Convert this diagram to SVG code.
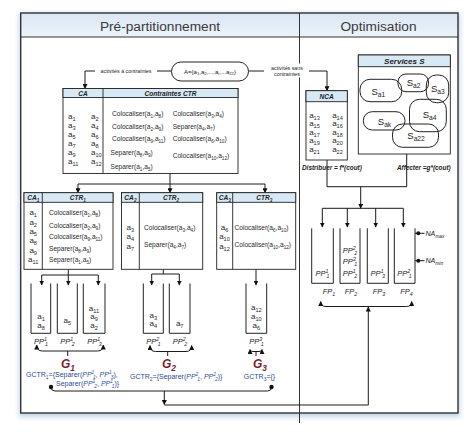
<svg xmlns="http://www.w3.org/2000/svg" width="474" height="433" viewBox="0 0 474 433">
<defs>
<style>
text{font-family:"Liberation Sans",Arial,sans-serif;fill:#222}
.hd{font-size:13.7px;fill:#3a3a3a;text-anchor:middle}
.bh{font-size:6.6px;font-weight:bold;font-style:italic;text-anchor:middle}
.sv{font-size:8px;font-weight:bold;font-style:italic;text-anchor:middle}
.c{font-size:6.6px;fill:#2a2a2a}
.a{font-size:8px;fill:#2a2a2a}
.pp{font-size:7.5px;font-style:italic;text-anchor:middle}
.g{font-size:12px;font-weight:bold;font-style:italic;fill:#7a1e2e;text-anchor:middle}
.gc{font-size:7px;fill:#2d4a98}
.sm{font-size:5.3px;text-anchor:middle}
.lb{font-size:6.4px;font-weight:bold;font-style:italic}
.s{font-size:9.5px;text-anchor:middle}
.sb{font-size:70%;baseline-shift:-0.35em}
.sp{font-size:70%;baseline-shift:0.55em}
.m{text-anchor:middle}
.ln{fill:none;stroke:#1a1a1a;stroke-width:1}
.ar{marker-end:url(#ah)}
.ar2{marker-start:url(#ah);marker-end:url(#ah)}
.tb{fill:#fff;stroke:#222;stroke-width:0.9}
.th{fill:#d8e9f6;stroke:#222;stroke-width:0.9}
.bx{fill:none;stroke:#222;stroke-width:0.9}
.el{fill:none;stroke:#222;stroke-width:1}
.ct{fill:none;stroke:#222;stroke-width:1}
</style>
<marker id="ah" viewBox="0 0 10 10" refX="9" refY="5" markerWidth="5" markerHeight="5" markerUnits="userSpaceOnUse" orient="auto-start-reverse"><path d="M0,0 L10,5 L0,10 z" fill="#111"/></marker>
<linearGradient id="hg" x1="0" y1="0" x2="0" y2="1"><stop offset="0" stop-color="#dbe7f4"/><stop offset="1" stop-color="#ecf3fa"/></linearGradient>
<filter id="sh" x="-10%" y="-10%" width="120%" height="120%"><feGaussianBlur stdDeviation="2.5"/></filter>
</defs>
<rect width="474" height="433" fill="#fff"/>
<g id="frame">
<rect x="19" y="13" width="441" height="404" fill="#a9c2e2" opacity="0.7" filter="url(#sh)"/>
<rect x="20.7" y="13" width="437.3" height="400" fill="#fff"/>
<rect x="20.7" y="13" width="437.3" height="24" fill="url(#hg)"/>
<line x1="20.7" y1="37" x2="458" y2="37" stroke="#333" stroke-width="1"/>
<line x1="299.5" y1="13" x2="299.5" y2="423" stroke="#333" stroke-width="1"/>
<rect x="20.7" y="13" width="437.3" height="400" fill="none" stroke="#333" stroke-width="1.4"/>
<text class="hd" x="160" y="31">Pré-partitionnement</text>
<text class="hd" x="378.5" y="31">Optimisation</text>
</g>
<g id="connectors">
<path class="ln" d="M171.5,71 H157"/>
<path class="ln ar" d="M95,71 H85 V88.5"/>
<path class="ln" d="M248.5,71 H264"/>
<path class="ln ar" d="M309,71 H327 V90.7"/>
<path class="ln" d="M170,173.5 V184 M78,184 H265"/>
<path class="ln ar" d="M78,184 V192.7"/>
<path class="ln ar" d="M170,184 V192.7"/>
<path class="ln ar" d="M265,184 V192.7"/>
<path class="ln" d="M68.3,269.3 V275 M41.7,275 H98.3"/>
<path class="ln ar" d="M41.7,275 V285"/>
<path class="ln ar" d="M68.3,275 V285"/>
<path class="ln ar" d="M98.3,275 V285"/>
<path class="ln" d="M163.3,269.3 V274 M151.7,274 H179.3"/>
<path class="ln ar" d="M151.7,274 V285"/>
<path class="ln ar" d="M179.3,274 V285"/>
<path class="ln ar" d="M256,269.3 V285"/>
<path class="ln ar2" d="M36.7,345 Q36.7,351 42.5,351 H97.5 Q103.3,351 103.3,345"/>
<path class="ln" d="M67.7,351 V356"/>
<path class="ln ar2" d="M150,345.5 Q150,351.5 155.5,351.5 H186 Q191.7,351.5 191.7,345.5"/>
<path class="ln" d="M167.7,351.5 V356"/>
<path class="ln ar2" d="M250,349.5 Q250,351.5 253,351.5 H259 Q262,351.5 262,349.5"/>
<path class="ln" d="M256,351.5 V356"/>
<path class="ln" d="M51,387 Q51,391 55,391 H267.5 Q271.5,391 271.5,387"/>
<circle cx="51" cy="387" r="2.2" fill="#111"/>
<circle cx="271.5" cy="387" r="2.2" fill="#111"/>
<path class="ln ar" d="M164.3,391 V404.5"/>
<path class="ln ar" d="M164.3,405 H368.3 V307"/>
<path class="ln" d="M327,160 V186.7 H406.7 V154"/>
<path class="ln ar" d="M360.7,186.7 V208.3"/>
<path class="ln" d="M322.3,208.3 H403.3"/>
<path class="ln ar" d="M322.3,208.3 V227"/>
<path class="ln ar" d="M347.3,208.3 V227"/>
<path class="ln ar" d="M375.7,208.3 V227"/>
<path class="ln ar" d="M403.3,208.3 V227"/>
<path class="ln ar2" d="M320.7,301.5 Q320.7,306.5 326,306.5 H406.5 Q411.7,306.5 411.7,301.5"/>
<path class="ln" d="M415,233.3 H418.3 M415,260.7 H418.3 M420,233.3 H424.5 M420,260.7 H424.5"/>
<circle cx="418.3" cy="233.3" r="2" fill="#111"/>
<circle cx="418.3" cy="260.7" r="2" fill="#111"/>
<text class="sm" x="126" y="73">activités à contraintes</text>
<rect x="268" y="63.5" width="37" height="14" fill="#fff"/>
<text class="sm" x="287" y="70">activités sans</text>
<text class="sm" x="287" y="76">contraintes</text>
<text class="lb" x="302" y="170">Distribuer = f*(cout)</text>
<text class="lb" x="397" y="170">Affecter =g*(cout)</text>
</g>
<g id="A">
<rect x="171.5" y="62" width="77" height="19" rx="9.5" fill="#fff" stroke="#222" stroke-width="1"/>
<text class="m" style="font-size:6px" x="210" y="74">A={a<tspan class="sb">1</tspan>,a<tspan class="sb">2</tspan>,...,a<tspan class="sb">i</tspan>,...a<tspan class="sb">22</tspan>}</text>
</g>
<g id="CA">
<rect class="tb" x="63" y="88.5" width="175" height="85"/>
<rect class="th" x="63" y="88.5" width="175" height="9"/>
<line class="bx" x1="103" y1="88.5" x2="103" y2="173.5"/>
<text class="bh" x="83" y="95.5">CA</text>
<text class="bh" x="170.5" y="95.5">Contraintes CTR</text>
<text class="a" x="68" y="119.3">a<tspan class="sb">1</tspan></text>
<text class="a" x="68" y="128.2">a<tspan class="sb">3</tspan></text>
<text class="a" x="68" y="137.1">a<tspan class="sb">5</tspan></text>
<text class="a" x="68" y="146">a<tspan class="sb">7</tspan></text>
<text class="a" x="68" y="154.9">a<tspan class="sb">9</tspan></text>
<text class="a" x="68" y="163.8">a<tspan class="sb">11</tspan></text>
<text class="a" x="91" y="119.3">a<tspan class="sb">2</tspan></text>
<text class="a" x="91" y="128.2">a<tspan class="sb">4</tspan></text>
<text class="a" x="91" y="137.1">a<tspan class="sb">6</tspan></text>
<text class="a" x="91" y="146">a<tspan class="sb">8</tspan></text>
<text class="a" x="91" y="154.9">a<tspan class="sb">10</tspan></text>
<text class="a" x="91" y="163.8">a<tspan class="sb">12</tspan></text>
<text class="c" x="112" y="116.3">Colocaliser(a<tspan class="sb">1</tspan>,a<tspan class="sb">8</tspan>)</text>
<text class="c" x="112" y="128.8">Colocaliser(a<tspan class="sb">2</tspan>,a<tspan class="sb">9</tspan>)</text>
<text class="c" x="112" y="140.8">Colocaliser(a<tspan class="sb">9</tspan>,a<tspan class="sb">11</tspan>)</text>
<text class="c" x="110.5" y="155.3">Separer(a<tspan class="sb">8</tspan>,a<tspan class="sb">9</tspan>)</text>
<text class="c" x="110.5" y="168.8">Separer(a<tspan class="sb">1</tspan>,a<tspan class="sb">5</tspan>)</text>
<text class="c" x="172.7" y="116.3">Colocaliser(a<tspan class="sb">3</tspan>,a<tspan class="sb">4</tspan>)</text>
<text class="c" x="172.7" y="128.8">Separer(a<tspan class="sb">4</tspan>,a<tspan class="sb">7</tspan>)</text>
<text class="c" x="172.7" y="140.8">Colocaliser(a<tspan class="sb">6</tspan>,a<tspan class="sb">10</tspan>)</text>
<text class="c" x="172.7" y="158.3">Colocaliser(a<tspan class="sb">10</tspan>,a<tspan class="sb">12</tspan>)</text>
</g>
<g id="NCA">
<rect class="tb" x="306" y="90.7" width="41.3" height="69.3"/>
<rect class="th" x="306" y="90.7" width="41.3" height="11"/>
<text class="bh" x="326.7" y="98.7">NCA</text>
<text class="a m" x="314.5" y="117.5">a<tspan class="sb">13</tspan></text>
<text class="a m" x="314.5" y="126">a<tspan class="sb">15</tspan></text>
<text class="a m" x="314.5" y="134.5">a<tspan class="sb">17</tspan></text>
<text class="a m" x="314.5" y="143">a<tspan class="sb">19</tspan></text>
<text class="a m" x="314.5" y="151.5">a<tspan class="sb">21</tspan></text>
<text class="a m" x="337.5" y="117.5">a<tspan class="sb">14</tspan></text>
<text class="a m" x="337.5" y="126">a<tspan class="sb">16</tspan></text>
<text class="a m" x="337.5" y="134.5">a<tspan class="sb">18</tspan></text>
<text class="a m" x="337.5" y="143">a<tspan class="sb">20</tspan></text>
<text class="a m" x="337.5" y="151.5">a<tspan class="sb">22</tspan></text>
</g>
<g id="services">
<rect class="tb" x="358.3" y="55" width="92" height="99"/>
<rect class="th" x="358.3" y="55" width="92" height="11.7"/>
<text class="sv" x="404.3" y="63.8">Services S</text>
<rect class="el" x="360" y="79.3" width="41.7" height="22.4" rx="10"/>
<rect class="el" x="398" y="74" width="30.5" height="17.7" rx="8"/>
<rect class="el" x="426.3" y="75" width="22.4" height="27.7" rx="10"/>
<rect class="el" x="363.3" y="111.7" width="41.7" height="18.3" rx="9"/>
<rect class="el" x="409.5" y="99.3" width="36.8" height="32.4" rx="10"/>
<rect class="el" x="392.5" y="124" width="46" height="23.3" rx="10"/>
<text class="s" x="378.3" y="94.5">S<tspan class="sb">a1</tspan></text>
<text class="s" x="413.5" y="86">S<tspan class="sb">a2</tspan></text>
<text class="s" x="437.8" y="92">S<tspan class="sb">a3</tspan></text>
<text class="s" x="384.5" y="124.5">S<tspan class="sb">ak</tspan></text>
<text class="s" x="429.5" y="118">S<tspan class="sb">a4</tspan></text>
<text class="s" x="416" y="139">S<tspan class="sb">a22</tspan></text>
</g>
<g id="CA1">
<rect class="tb" x="24" y="192.7" width="89" height="76.6"/>
<rect class="th" x="24" y="192.7" width="89" height="9.6"/>
<line class="bx" x1="42.3" y1="192.7" x2="42.3" y2="269.3"/>
<text class="bh" x="33.2" y="199.9">CA<tspan class="sb">1</tspan></text>
<text class="bh" x="77.7" y="199.9">CTR<tspan class="sb">1</tspan></text>
<text class="a m" x="33.2" y="215.3">a<tspan class="sb">1</tspan></text>
<text class="a m" x="33.2" y="224.6">a<tspan class="sb">2</tspan></text>
<text class="a m" x="33.2" y="234">a<tspan class="sb">5</tspan></text>
<text class="a m" x="33.2" y="243.3">a<tspan class="sb">8</tspan></text>
<text class="a m" x="33.2" y="252.6">a<tspan class="sb">9</tspan></text>
<text class="a m" x="33.2" y="261.8">a<tspan class="sb">11</tspan></text>
<text class="c" x="49" y="215.3">Colocaliser(a<tspan class="sb">1</tspan>,a<tspan class="sb">8</tspan>)</text>
<text class="c" x="49" y="228">Colocaliser(a<tspan class="sb">2</tspan>,a<tspan class="sb">9</tspan>)</text>
<text class="c" x="49" y="239">Colocaliser(a<tspan class="sb">9</tspan>,a<tspan class="sb">11</tspan>)</text>
<text class="c" x="49" y="251.3">Separer(a<tspan class="sb">8</tspan>,a<tspan class="sb">9</tspan>)</text>
<text class="c" x="49" y="262.3">Separer(a<tspan class="sb">1</tspan>,a<tspan class="sb">5</tspan>)</text>
</g>
<g id="CA2">
<rect class="tb" x="121.5" y="192.7" width="81.2" height="76.6"/>
<rect class="th" x="121.5" y="192.7" width="81.2" height="9.6"/>
<line class="bx" x1="139.3" y1="192.7" x2="139.3" y2="269.3"/>
<text class="bh" x="130.4" y="199.9">CA<tspan class="sb">2</tspan></text>
<text class="bh" x="171" y="199.9">CTR<tspan class="sb">2</tspan></text>
<text class="a m" x="130.4" y="229.9">a<tspan class="sb">3</tspan></text>
<text class="a m" x="130.4" y="239.1">a<tspan class="sb">4</tspan></text>
<text class="a m" x="130.4" y="248.6">a<tspan class="sb">7</tspan></text>
<text class="c" x="144" y="229.6">Colocaliser(a<tspan class="sb">3</tspan>,a<tspan class="sb">4</tspan>)</text>
<text class="c" x="144" y="247.3">Separer(a<tspan class="sb">4</tspan>,a<tspan class="sb">7</tspan>)</text>
</g>
<g id="CA3">
<rect class="tb" x="216.7" y="192.7" width="79" height="76.6"/>
<rect class="th" x="216.7" y="192.7" width="79" height="9.6"/>
<line class="bx" x1="232.7" y1="192.7" x2="232.7" y2="269.3"/>
<text class="bh" x="224.7" y="199.9">CA<tspan class="sb">3</tspan></text>
<text class="bh" x="264.2" y="199.9">CTR<tspan class="sb">3</tspan></text>
<text class="a m" x="224.5" y="229.9">a<tspan class="sb">6</tspan></text>
<text class="a m" x="224.5" y="239.1">a<tspan class="sb">10</tspan></text>
<text class="a m" x="224.5" y="248.6">a<tspan class="sb">12</tspan></text>
<text class="c" x="234.5" y="229.6">Colocaliser(a<tspan class="sb">6</tspan>,a<tspan class="sb">10</tspan>)</text>
<text class="c" x="234.5" y="247.3">Colocaliser(a<tspan class="sb">10</tspan>,a<tspan class="sb">12</tspan>)</text>
</g>
<g id="PP1_1"><path class="ct" d="M31,283.5 V333.3 H50.7 V283.5"/>
<text class="a m" x="41" y="319.3">a<tspan class="sb">1</tspan></text><text class="a m" x="41" y="327.6">a<tspan class="sb">8</tspan></text>
<text class="pp" x="41" y="344">PP<tspan class="sp">1</tspan><tspan class="sb" dx="-1.5">1</tspan></text></g>
<g id="PP1_2"><path class="ct" d="M57.3,283.5 V333.3 H77.3 V283.5"/>
<text class="a m" x="67.3" y="323.3">a<tspan class="sb">5</tspan></text>
<text class="pp" x="67.5" y="344">PP<tspan class="sp">1</tspan><tspan class="sb" dx="-1.5">2</tspan></text></g>
<g id="PP1_3"><path class="ct" d="M83.3,283.5 V333.3 H105 V283.5"/>
<text class="a m" x="94" y="310.9">a<tspan class="sb">11</tspan></text><text class="a m" x="94" y="319.3">a<tspan class="sb">9</tspan></text><text class="a m" x="94" y="327.6">a<tspan class="sb">2</tspan></text>
<text class="pp" x="94.5" y="344">PP<tspan class="sp">1</tspan><tspan class="sb" dx="-1.5">3</tspan></text></g>
<g id="PP2_1"><path class="ct" d="M143.3,283.5 V333.3 H163.3 V283.5"/>
<text class="a m" x="153.3" y="317.6">a<tspan class="sb">3</tspan></text><text class="a m" x="153.3" y="325.9">a<tspan class="sb">4</tspan></text>
<text class="pp" x="153.5" y="344">PP<tspan class="sp">2</tspan><tspan class="sb" dx="-1.5">1</tspan></text></g>
<g id="PP2_2"><path class="ct" d="M169.3,283.5 V333.3 H190 V283.5"/>
<text class="a m" x="179.7" y="325.9">a<tspan class="sb">7</tspan></text>
<text class="pp" x="180" y="344">PP<tspan class="sp">2</tspan><tspan class="sb" dx="-1.5">2</tspan></text></g>
<g id="PP3_1"><path class="ct" d="M246,283.5 V333.3 H266.7 V283.5"/>
<text class="a m" x="256.3" y="309.9">a<tspan class="sb">12</tspan></text><text class="a m" x="256.3" y="319.3">a<tspan class="sb">10</tspan></text><text class="a m" x="256.3" y="327.6">a<tspan class="sb">6</tspan></text>
<text class="pp" x="256.5" y="344">PP<tspan class="sp">3</tspan><tspan class="sb" dx="-1.5">1</tspan></text></g>
<g id="G1"><text class="g" x="68" y="367.5">G<tspan class="sb">1</tspan></text>
<text class="gc" x="26" y="377.3">GCTR<tspan class="sb">1</tspan>={Separer(<tspan font-style="italic">PP<tspan class="sp">1</tspan><tspan class="sb" dx="-1">1</tspan></tspan>, <tspan font-style="italic">PP<tspan class="sp">1</tspan><tspan class="sb" dx="-1">3</tspan></tspan>),</text>
<text class="gc" x="56" y="386">Separer(<tspan font-style="italic">PP<tspan class="sp">1</tspan><tspan class="sb" dx="-1">2</tspan></tspan>, <tspan font-style="italic">PP<tspan class="sp">1</tspan><tspan class="sb" dx="-1">1</tspan></tspan>)}</text></g>
<g id="G2"><text class="g" x="169" y="367.5">G<tspan class="sb">2</tspan></text>
<text class="gc" x="130" y="379">GCTR<tspan class="sb">2</tspan>={Separer(<tspan font-style="italic">PP<tspan class="sp">2</tspan><tspan class="sb" dx="-1">1</tspan></tspan>, <tspan font-style="italic">PP<tspan class="sp">2</tspan><tspan class="sb" dx="-1">2</tspan></tspan>)}</text></g>
<g id="G3"><text class="g" x="260" y="367.5">G<tspan class="sb">3</tspan></text>
<text class="gc m" x="259.5" y="378.5">GCTR<tspan class="sb">3</tspan>={}</text></g>
<g id="FP1"><path class="ct" d="M311.7,228.3 V283.3 H333.3 V228.3"/>
<text class="pp" x="322.5" y="275.8">PP<tspan class="sp">1</tspan><tspan class="sb" dx="-1.5">1</tspan></text>
<text class="pp" x="329" y="294">FP<tspan class="sb">1</tspan></text></g>
<g id="FP2"><path class="ct" d="M340,228.3 V283.3 H360 V228.3"/>
<text class="pp" x="350" y="252.5">PP<tspan class="sp">2</tspan><tspan class="sb" dx="-1.5">2</tspan></text>
<text class="pp" x="350" y="264.2">PP<tspan class="sp">3</tspan><tspan class="sb" dx="-1.5">1</tspan></text>
<text class="pp" x="350" y="275.8">PP<tspan class="sp">1</tspan><tspan class="sb" dx="-1.5">2</tspan></text>
<text class="pp" x="351" y="294">FP<tspan class="sb">2</tspan></text></g>
<g id="FP3"><path class="ct" d="M367.3,228.3 V283.3 H388.3 V228.3"/>
<text class="pp" x="377.8" y="275.8">PP<tspan class="sp">1</tspan><tspan class="sb" dx="-1.5">3</tspan></text>
<text class="pp" x="379" y="294">FP<tspan class="sb">3</tspan></text></g>
<g id="FP4"><path class="ct" d="M394.3,228.3 V283.3 H415 V228.3"/>
<text class="pp" x="404.5" y="275.8">PP<tspan class="sp">2</tspan><tspan class="sb" dx="-1.5">1</tspan></text>
<text class="pp" x="406.5" y="294">FP<tspan class="sb">4</tspan></text></g>
<g id="NA">
<text class="pp" style="text-anchor:start;font-size:7px" x="425.5" y="235.8">NA<tspan class="sb">max</tspan></text>
<text class="pp" style="text-anchor:start;font-size:7px" x="425.5" y="263.2">NA<tspan class="sb">min</tspan></text>
</g>
</svg>
